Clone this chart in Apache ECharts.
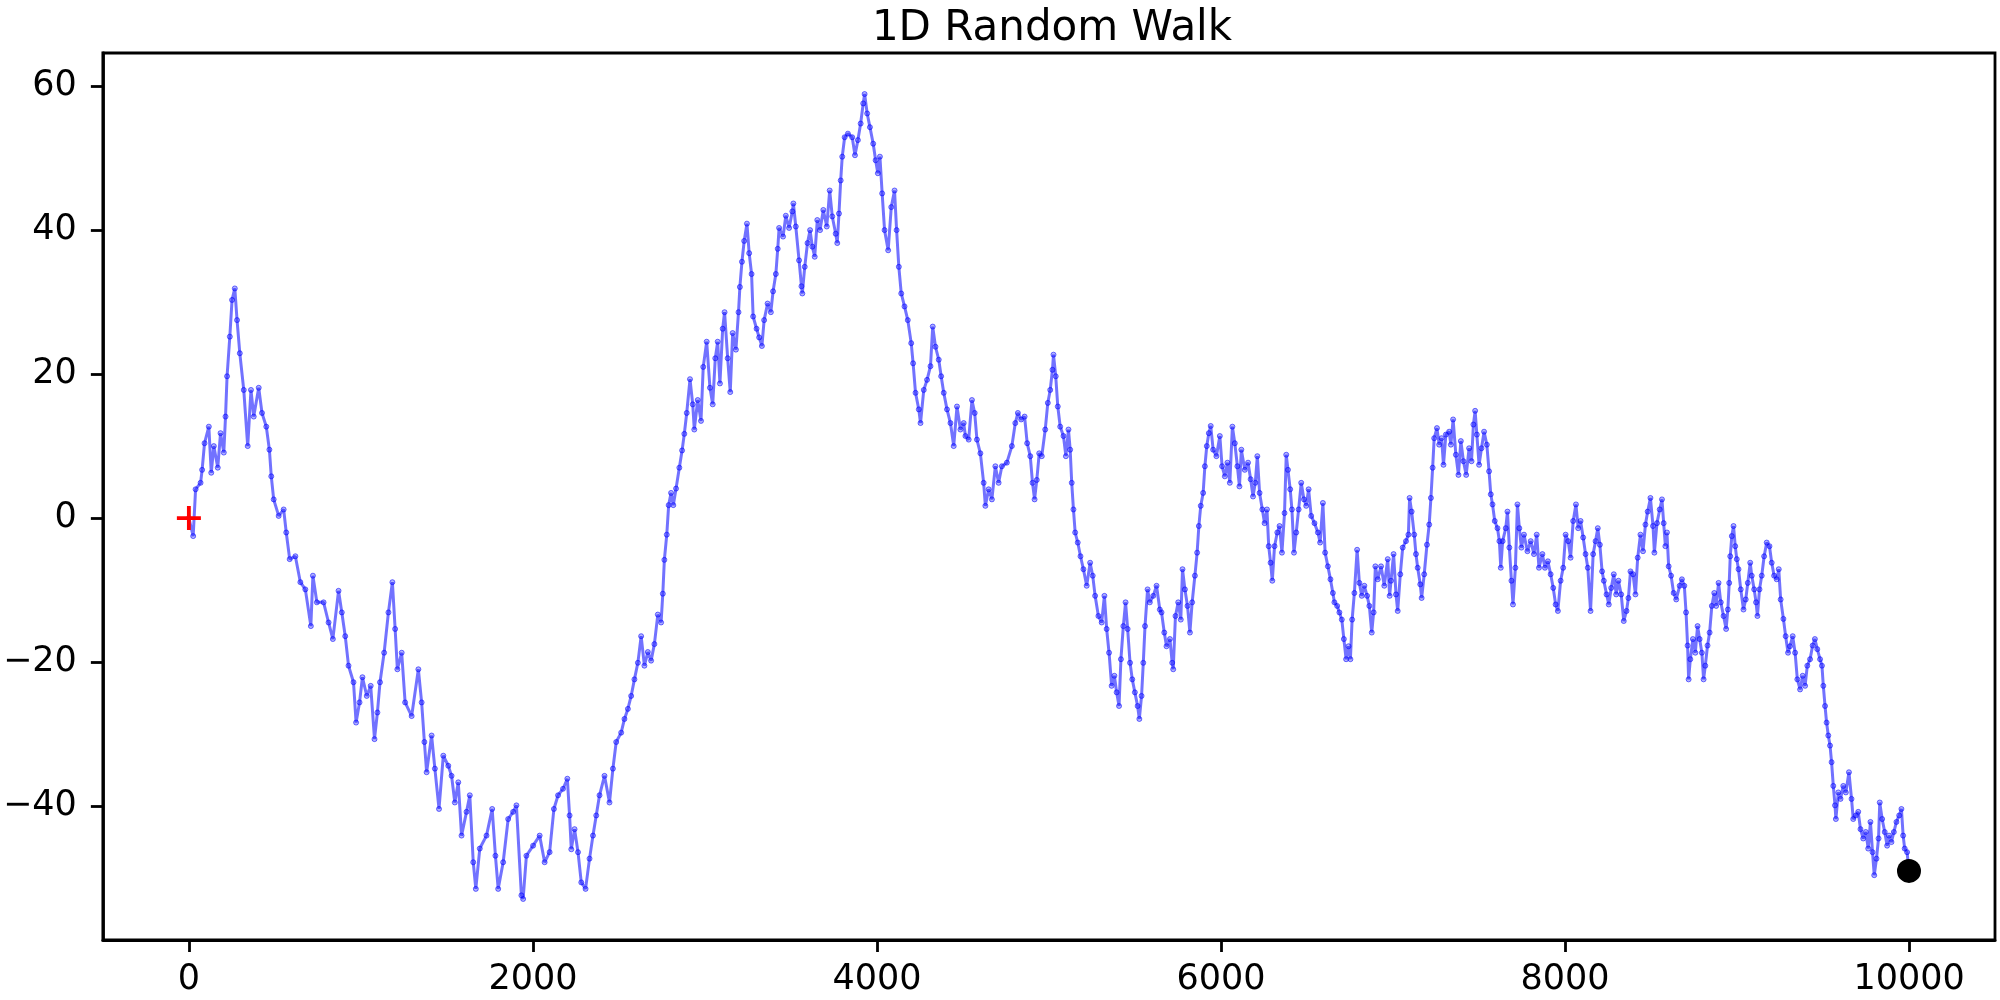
<!DOCTYPE html>
<html>
<head>
<meta charset="utf-8">
<script src="https://cdn.jsdelivr.net/npm/echarts@6/dist/echarts.min.js"></script>
<style>
html,body{margin:0;padding:0;background:#fff;}
#chart{width:2000px;height:1000px;}
</style>
</head>
<body>
<div id="chart"></div>
<script>
// ---- data ----
const chartTitle = '1D Random Walk';
const xTicks = [0, 2000, 4000, 6000, 8000, 10000];
const yTicks = [-40, -20, 0, 20, 40, 60];
const startPoint = [0, 0];
const endPoint = [9999, -49];

const walkStep = [
0,25,39,68,77,91,116,130,145,168,184,203,213,222,238,251,267,280,296,319,342,361,377,406,425,450,468,479,493,522,551,566,586,619,648,677,709,721,744,783,812,837,870,889,909,928,957,972,992,1009,1034,1057,1079,1096,1111,1135,1160,1183,1199,1212,1237,1257,1295,1334,
1353,1369,1382,1411,1430,1454,1479,1508,1527,1546,1566,1585,1614,1633,1653,1668,1691,1730,1763,1782,1798,1827,1856,1885,1904,1933,1943,1962,2001,2039,2068,2097,2122,2146,2175,2200,2213,2223,2242,2262,2281,2306,2329,2349,2368,2387,2416,2445,2465,2484,2513,2532,2552,2571,
2590,2610,2629,2648,2668,2687,2706,2726,2745,2755,2764,2778,2789,2803,2816,2832,2851,2867,2880,2894,2913,2929,2938,2958,2977,2990,3010,3029,3045,3060,3074,3087,3103,3114,3132,3147,3161,3180,3195,3203,3215,3228,3244,3257,3271,3280,3300,3315,3331,3344,3364,3383,3396,3412,3423,3431,3454,3470,3489,3508,
3514,3528,3547,3561,3566,3580,3596,3611,3624,3638,3653,3669,3688,3708,3725,3740,3760,3769,3779,3789,3798,3812,3831,3856,3872,3889,3905,3920,3928,3943,3959,3978,3992,4005,4017,4030,4044,4065,4083,4102,4114,4127,4141,4160,4179,4199,4210,4224,4243,4253,4272,4291,4311,4324,4340,4359,4373,4388,4407,4427,4446,4465,4485,4504,
4514,4533,4552,4568,4581,4601,4620,4630,4649,4668,4688,4707,4726,4755,4784,4804,4819,4838,4858,4873,4891,4904,4916,4929,4943,4958,4978,4993,5007,5020,5026,5039,5051,5065,5084,5098,5113,5123,5132,5142,5152,5167,5183,5200,5219,5239,5254,5268,5287,5306,5322,5335,5349,5364,5380,5393,5407,5418,5432,5445,5457,5471,5484,5499,5515,5525,5538,5548,5558,5573,5586,5606,5625,5644,
5654,5670,5683,5703,5716,5722,5735,5751,5766,5776,5790,5805,5819,5832,5848,5861,5871,5882,5896,5906,5917,5929,5940,5954,5973,5993,6006,6022,6037,6051,6066,6080,6095,6107,6118,6138,6157,6172,6186,6199,6211,6224,6240,6253,6267,6277,6288,6298,6311,6327,6340,6354,6369,6379,6389,6402,6412,6424,6437,6451,6466,6482,6495,6509,6524,6543,6563,6576,6592,6605,6621,6636,6650,6659,6675,6688,6702,6714,6727,6741,6752,6762,6775,6791,6804,6818,6833,6849,6862,6876,6887,6897,6911,6930,6949,6969,6980,
6988,7003,7017,7027,7042,7056,7075,7089,7096,7108,7123,7133,7143,7158,7166,7181,7197,7210,7220,7230,7239,7255,7268,7282,7293,7307,7326,7336,7349,7365,7380,7394,7409,7425,7442,7456,7467,7477,7487,7500,7514,7529,7545,7558,7568,7578,7591,7607,7618,7626,7637,7655,7665,7676,7688,7697,7711,7723,7734,7746,7761,7781,7800,7819,7835,7848,7868,7883,7900,7916,7931,7945,7958,7974,7989,8003,8018,8032,8047,8063,8076,8090,8105,8119,8132,8148,8163,8177,8190,8202,8215,8225,8241,8254,8268,8283,8297,8310,8326,8341,8357,8368,8380,8395,8409,8422,8438,8453,8467,8480,8496,
8511,8519,8534,8550,8563,8573,8583,8592,8602,8616,8631,8646,8666,8679,8693,8703,8712,8718,8728,8743,8757,8770,8782,8795,8805,8815,8828,8840,8853,8867,8878,8892,8905,8921,8936,8946,8954,8960,8969,8979,8989,8998,9008,9021,9037,9050,9062,9076,9085,9099,9110,9118,9130,9143,9157,9172,9188,9201,9215,9230,9242,9253,9269,9282,9296,9307,9323,9337,9350,9366,9381,9395,9408,9424,9439,9452,9466,9482,9493,9501,9511,9520,9530,9540,9549,9559,9569,9574,9588,9601,9617,9632,9650,9665,9675,9690,9704,9717,9733,9748,9762,9775,9787,9797,9810,9822,9829,9843,9858,9872,9883,9897,9911,9926,9942,9955,9965,9974,9988,9999
];

const walkValue = [
0,-2.5,4.0,4.9,6.7,10.4,12.7,6.3,10.0,7.0,11.8,9.1,14.1,19.7,25.2,30.3,31.9,27.5,22.9,17.8,10.0,17.8,14.1,18.1,14.6,12.7,9.5,5.8,2.6,0.3,1.2,-2.0,-5.7,-5.3,-8.9,-9.9,-15.0,-8.0,-11.7,-11.7,-14.5,-16.8,-10.1,-13.1,-16.4,-20.5,-22.8,-28.4,-25.6,-22.1,-24.7,-23.3,-30.7,-27.0,-22.8,-18.7,-13.1,-8.9,-15.4,-21.0,-18.7,-25.6,-27.5,-21.0,
-25.6,-31.1,-35.3,-30.2,-34.8,-40.4,-33.0,-34.4,-35.8,-39.5,-36.7,-44.1,-40.8,-38.5,-47.8,-51.5,-45.9,-44.1,-40.4,-46.9,-51.5,-47.8,-41.8,-40.8,-39.9,-52.4,-52.9,-46.9,-45.5,-44.1,-47.8,-46.4,-40.4,-38.5,-37.6,-36.2,-41.3,-46.0,-43.2,-46.4,-50.6,-51.5,-47.3,-44.1,-41.3,-38.5,-35.8,-39.5,-34.8,-31.1,-29.8,-27.9,-26.5,-24.7,
-22.4,-20.1,-16.4,-20.5,-18.6,-19.8,-17.5,-13.4,-14.5,-10.5,-5.8,-2.3,1.8,3.5,1.8,4.1,7.0,9.4,11.7,14.6,19.3,15.8,12.3,16.4,13.5,21.0,24.5,18.1,15.8,22.2,24.5,18.7,26.3,28.6,22.2,17.5,25.7,23.4,28.6,32.1,35.6,38.5,40.9,36.8,33.9,28.0,26.3,25.1,23.9,27.5,29.8,28.6,31.5,33.9,37.4,40.3,39.1,42.0,40.3,42.6,
43.7,40.5,35.8,32.2,31.2,34.9,38.2,40.0,37.7,36.3,41.4,40.0,42.8,40.5,45.5,41.9,39.5,38.2,42.3,46.9,50.2,52.9,53.4,52.9,50.4,52.5,54.8,57.6,58.9,56.2,54.3,52.0,49.7,47.9,50.2,45.1,40.0,37.2,43.2,45.5,40.0,34.9,31.2,29.4,27.5,24.3,21.5,17.4,15.1,13.2,17.8,19.2,21.1,26.6,23.8,22.0,19.7,17.4,15.1,13.2,10.0,15.5,12.3,13.2,
11.4,10.9,16.4,14.6,10.9,9.0,4.9,1.7,4.0,2.6,7.2,4.9,7.2,7.7,10.0,13.2,14.6,13.7,14.1,10.4,8.6,4.9,2.6,5.3,9.0,8.6,12.3,16.0,17.8,20.6,22.7,19.7,15.5,12.7,11.4,8.6,12.3,9.5,4.9,1.2,-2.0,-3.4,-5.3,-7.1,-9.4,-6.2,-8.0,-10.8,-13.6,-14.5,-10.8,-15.4,-18.7,-23.3,-21.9,-24.2,-26.1,-19.6,-15.0,-11.7,-15.4,-20.1,-22.4,-24.2,-26.1,-27.9,-24.7,-20.1,-15.0,-9.9,-11.7,-10.8,-9.4,-12.7,
-13.1,-15.9,-17.8,-16.8,-20.1,-21.0,-13.6,-11.7,-14.1,-7.1,-9.9,-12.2,-15.9,-11.7,-8.0,-4.8,-1.1,1.7,3.5,7.2,10.0,11.8,12.8,9.5,8.6,11.4,7.2,5.8,7.7,4.9,12.7,10.4,7.2,4.4,9.5,6.7,7.7,5.4,3.0,4.9,8.6,3.5,1.2,-0.7,1.2,-3.9,-6.2,-8.7,-3.9,-2.0,-1.1,-4.8,0.7,8.8,6.7,4.0,1.2,-4.8,-2.0,1.2,4.9,2.6,1.7,4.0,0.3,-0.7,-2.0,-3.4,2.1,-4.8,-6.7,-8.5,-10.4,-11.7,-12.2,-13.1,-14.1,-16.8,-19.6,-17.8,-19.6,-14.1,-10.4,-4.4,-9.0,-10.8,-9.4,-10.8,-12.2,-15.9,-13.1,-6.7,-8.5,-6.7,-9.4,-5.7,-10.8,
-8.7,-5.0,-10.6,-12.9,-7.8,-4.1,-3.2,-2.3,2.8,0.9,-2.3,-5.0,-6.9,-9.2,-11.1,-7.8,-3.7,-0.9,2.8,7.0,11.1,12.5,10.2,11.1,7.4,11.6,12.0,10.2,13.7,8.8,6.0,10.7,7.9,6.0,9.7,7.9,13.0,14.9,11.6,7.4,9.7,12.0,10.2,6.5,3.3,1.9,-0.4,-1.4,-3.2,-6.9,-3.2,-1.4,0.9,-4.1,-8.7,-12.0,-6.9,1.9,-1.4,-4.1,-2.3,-4.6,-3.2,-5.0,-2.3,-6.9,-5.0,-6.9,-6.0,-7.8,-9.7,-12.0,-12.9,-8.7,-6.9,-2.3,-3.2,-5.5,-0.4,1.9,-1.4,-0.4,-2.7,-5.0,-6.9,-12.9,-5.0,-3.2,-1.4,-3.7,-7.4,-8.7,-10.6,-12.0,-9.7,-7.8,-10.6,-8.7,-10.6,-14.3,-12.9,-11.1,-7.4,-7.8,-10.6,-5.5,-2.3,-4.6,-0.9,0.9,2.8,
-1.1,-4.8,-0.7,1.2,2.6,-0.7,-3.9,-2.0,-6.7,-8.0,-10.4,-11.3,-9.4,-8.5,-9.4,-13.1,-17.7,-22.4,-19.6,-16.8,-18.7,-15.0,-16.8,-18.7,-22.4,-20.5,-17.7,-15.9,-12.2,-10.4,-12.2,-9.0,-11.7,-13.6,-15.4,-12.7,-9.0,-5.3,-2.5,-1.1,-3.9,-5.7,-7.1,-9.9,-12.7,-11.3,-9.0,-6.2,-8.0,-9.9,-11.7,-13.6,-9.9,-8.0,-5.3,-3.4,-3.9,-6.2,-8.0,-8.5,-7.1,-11.3,-14.0,-16.4,-18.7,-17.8,-16.4,-18.7,-22.4,-23.8,-21.9,-23.3,-20.5,-19.6,-17.7,-16.8,-18.2,-19.6,-20.5,-23.3,-26.1,-28.4,-30.2,-31.6,-33.9,-37.2,-39.9,-41.8,-38.1,-39.0,-37.2,-38.1,-35.3,-39.0,-41.8,-41.3,-40.8,-43.2,-44.5,-43.6,-45.9,-42.2,-46.4,-49.6,-47.3,-44.5,-39.5,-41.8,-43.6,-45.5,-44.1,-45.0,-43.6,-42.2,-41.3,-40.4,-44.1,-45.9,-46.4,-49.1
];

// ---- chart ----
const FONT = 'DejaVu Sans';
const fmt = v => (v < 0 ? '\u2212' + Math.abs(v) : String(v));
const walkData = walkStep.map((s, i) => [s, walkValue[i]]);
const plusPath = 'path://M0.42,0 H0.58 V0.42 H1 V0.58 H0.58 V1 H0.42 V0.58 H0 V0.42 H0.42 Z';

const chart = echarts.init(document.getElementById('chart'), null, {renderer: 'canvas'});
chart.setOption({
  animation: false,
  backgroundColor: '#ffffff',
  title: {
    text: chartTitle,
    left: 1047,
    textAlign: 'center',
    top: 2,
    textStyle: {fontFamily: FONT, fontSize: 42, fontWeight: 'normal', color: '#000', lineHeight: 44}
  },
  grid: {
    left: 99, right: 5, top: 53, bottom: 60,
    show: true, borderColor: '#000', borderWidth: 2.8, backgroundColor: 'transparent'
  },
  xAxis: {
    type: 'value', min: -500, max: 10499,
    splitLine: {show: false},
    axisLine: {show: true, onZero: false, lineStyle: {color: '#000', width: 2.8}},
    axisTick: {show: true, inside: false, length: 12, lineStyle: {color: '#000', width: 2.8}, customValues: xTicks},
    axisLabel: {show: true, margin: 22, fontFamily: FONT, fontSize: 35, color: '#000', formatter: fmt, customValues: xTicks}
  },
  yAxis: {
    type: 'value', min: -58.6, max: 64.6,
    splitLine: {show: false},
    axisLine: {show: true, onZero: false, lineStyle: {color: '#000', width: 2.8}},
    axisTick: {show: true, inside: false, length: 12, lineStyle: {color: '#000', width: 2.8}, customValues: yTicks},
    axisLabel: {show: true, margin: 26, fontFamily: FONT, fontSize: 35, color: '#000', formatter: fmt, customValues: yTicks}
  },
  series: [
    {
      type: 'line',
      data: walkData,
      showSymbol: true,
      showAllSymbol: true,
      symbol: 'circle',
      symbolSize: 5,
      itemStyle: {color: 'rgba(0,0,255,0.3)', borderColor: 'rgba(0,0,255,0.55)', borderWidth: 1},
      lineStyle: {color: 'rgba(20,20,255,0.6)', width: 3},
      silent: true,
      z: 2
    },
    {
      type: 'scatter',
      data: [startPoint],
      symbol: plusPath,
      symbolSize: 24,
      itemStyle: {color: '#ff0000', opacity: 1},
      silent: true,
      z: 3
    },
    {
      type: 'scatter',
      data: [endPoint],
      symbol: 'circle',
      symbolSize: 24,
      itemStyle: {color: '#000000', opacity: 1},
      silent: true,
      z: 3
    }
  ]
});
</script>
</body>
</html>
